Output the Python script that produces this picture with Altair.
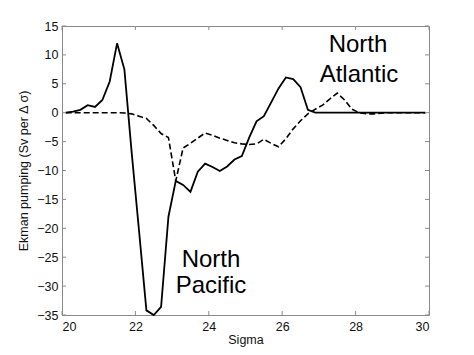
import altair as alt
import pandas as pd

sigma = [round(20.1 + 0.2 * i, 1) for i in range(50)]

north_pacific = [
    0.0, 0.2, 0.5, 1.3, 1.0, 2.2, 5.4, 12.0, 7.5, -7.0,
    -20.5, -34.2, -35.0, -33.6, -18.0, -11.8, -12.5, -13.7, -10.2, -8.8,
    -9.4, -10.1, -9.3, -8.1, -7.5, -4.3, -1.5, -0.6, 1.8, 4.2,
    6.1, 5.8, 4.4, 0.5, 0.0, 0.0, 0.0, 0.0, 0.0, 0.0,
    0.0, 0.0, 0.0, 0.0, 0.0, 0.0, 0.0, 0.0, 0.0, 0.0,
]

north_atlantic = [
    0.0, 0.0, 0.0, 0.0, 0.0, 0.0, 0.0, 0.0, -0.05, -0.2,
    -0.6, -1.0, -2.2, -3.6, -4.3, -11.8, -6.1, -5.3, -4.4, -3.5,
    -3.9, -4.4, -4.8, -5.2, -5.4, -5.5, -5.4, -4.6, -5.3, -5.9,
    -4.5, -2.8, -1.4, -0.2, 0.6, 1.3, 2.4, 3.4, 2.2, 0.6,
    0.0, -0.2, -0.2, -0.1, 0.0, 0.0, 0.0, 0.0, 0.0, 0.0,
]

x_ticks = [20, 22, 24, 26, 28, 30]
y_ticks = [-35, -30, -25, -20, -15, -10, -5, 0, 5, 10, 15]

W, H = 367, 289
FONT = "Liberation Sans"
AXIS_GRAY = "#8a8a8a"

df = pd.DataFrame({
    "sigma": sigma * 2,
    "value": north_pacific + north_atlantic,
    "basin": ["North Pacific"] * 50 + ["North Atlantic"] * 50,
})
xt = pd.DataFrame({"t": x_ticks})
yt = pd.DataFrame({"t": y_ticks})

xscale = alt.Scale(domain=[20, 30], nice=False, zero=False)
yscale = alt.Scale(domain=[-35, 15], nice=False, zero=False)

xaxis = alt.Axis(values=x_ticks, title="Sigma", tickSize=0, labelPadding=5,
                 labelFontSize=12.5, titleFontSize=12.5, labelFont=FONT, titleFont=FONT,
                 labelColor="#111", titleColor="#111", titleFontWeight="normal",
                 domainColor=AXIS_GRAY, grid=False, titlePadding=1, labelOverlap=False)
yaxis = alt.Axis(values=y_ticks, title="Ekman pumping (Sv per \u0394 \u03c3)", tickSize=0,
                 labelPadding=4, labelFontSize=12.5, titleFontSize=12.5, labelFont=FONT,
                 titleFont=FONT, labelColor="#111", titleColor="#111",
                 titleFontWeight="normal", domainColor=AXIS_GRAY, grid=False, titlePadding=6,
                 labelOverlap=False, labelBound=False)

pac = alt.Chart(df).transform_filter(alt.datum.basin == "North Pacific").mark_line(
    color="black", strokeWidth=1.8
).encode(
    x=alt.X("sigma:Q", scale=xscale, axis=xaxis),
    y=alt.Y("value:Q", scale=yscale, axis=yaxis),
)

atl = alt.Chart(df).transform_filter(alt.datum.basin == "North Atlantic").mark_line(
    color="black", strokeWidth=1.6, strokeDash=[6, 3]
).encode(
    x=alt.X("sigma:Q", scale=xscale, axis=xaxis),
    y=alt.Y("value:Q", scale=yscale, axis=yaxis),
)

tick_style = dict(color=AXIS_GRAY, strokeWidth=1)
bottom_ticks = alt.Chart(xt).mark_rule(**tick_style).encode(
    x=alt.X("t:Q", scale=xscale, axis=xaxis), y=alt.value(H), y2=alt.value(H - 4))
top_ticks = alt.Chart(xt).mark_rule(**tick_style).encode(
    x=alt.X("t:Q", scale=xscale, axis=xaxis), y=alt.value(0), y2=alt.value(4))
left_ticks = alt.Chart(yt).mark_rule(**tick_style).encode(
    y=alt.Y("t:Q", scale=yscale, axis=yaxis), x=alt.value(0), x2=alt.value(4))
right_ticks = alt.Chart(yt).mark_rule(**tick_style).encode(
    y=alt.Y("t:Q", scale=yscale, axis=yaxis), x=alt.value(W), x2=alt.value(W - 4))

def label(text, x, y):
    return alt.Chart(pd.DataFrame({"a": [0]})).mark_text(
        text=text, font=FONT, fontSize=24, color="black", align="center", baseline="alphabetic"
    ).encode(x=alt.value(x), y=alt.value(y))

texts = (label("North", 296, 26) + label("Atlantic", 297, 56)
         + label("North", 149, 241) + label("Pacific", 149, 267))

chart = alt.layer(
    pac, atl, bottom_ticks, top_ticks, left_ticks, right_ticks, texts
).properties(
    width=W, height=H,
    autosize=alt.AutoSizeParams(type="none"),
    padding={"left": 62, "top": 26, "right": 45, "bottom": 40},
    background="white",
).configure_view(stroke=AXIS_GRAY, strokeWidth=1).configure_axis(labelOverlap=False)

chart.save("out.html", embed_options={"renderer": "svg", "actions": False})
